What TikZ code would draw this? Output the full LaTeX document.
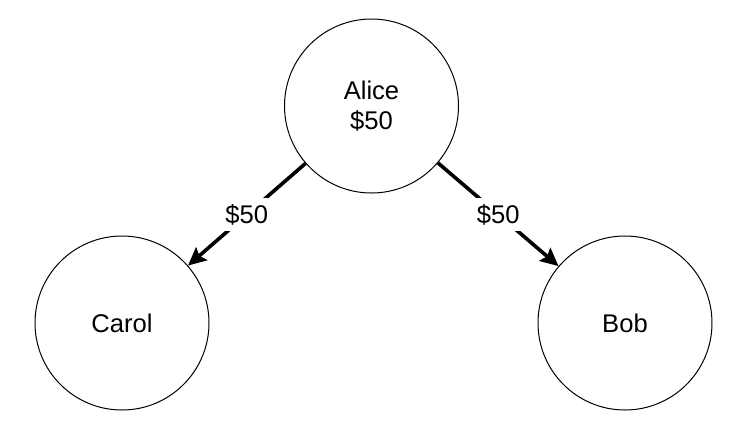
\documentclass[tikz,border=0pt]{standalone}
\usepackage{fontspec}
\setmainfont{Liberation Sans}
\usepackage{tikz}
\usetikzlibrary{arrows.meta, positioning}

\begin{document}
\begin{tikzpicture}[
    x=0.5pt, y=-0.5pt,
    person/.style={circle, draw=black, line width=0.5pt, fill=white, minimum size=87pt, inner sep=0pt, align=center, font=\fontsize{12.8}{15}\selectfont},
    arr/.style={-{Stealth[length=9pt, width=8.5pt, inset=1.5pt]}, line width=1.8pt, color=black},
    amount/.style={fill=white, inner sep=3pt, font=\fontsize{12.8}{15}\selectfont},
]
\useasboundingbox (0,0) rectangle (751,430);

% ─── Sender ───
\node[person] (alice) at (371.5,106) {Alice\\\$50};

% ─── Receivers ───
\node[person, on grid, below left=108.5pt and 124.75pt of alice] (carol) {Carol};
\node[person, on grid, below right=108.5pt and 126.75pt of alice] (bob) {Bob};

% ─── Payments ───
\draw[arr] (alice) -- node[amount] {\$50} (carol);
\draw[arr] (alice) -- node[amount] {\$50} (bob);

\end{tikzpicture}
\end{document}
